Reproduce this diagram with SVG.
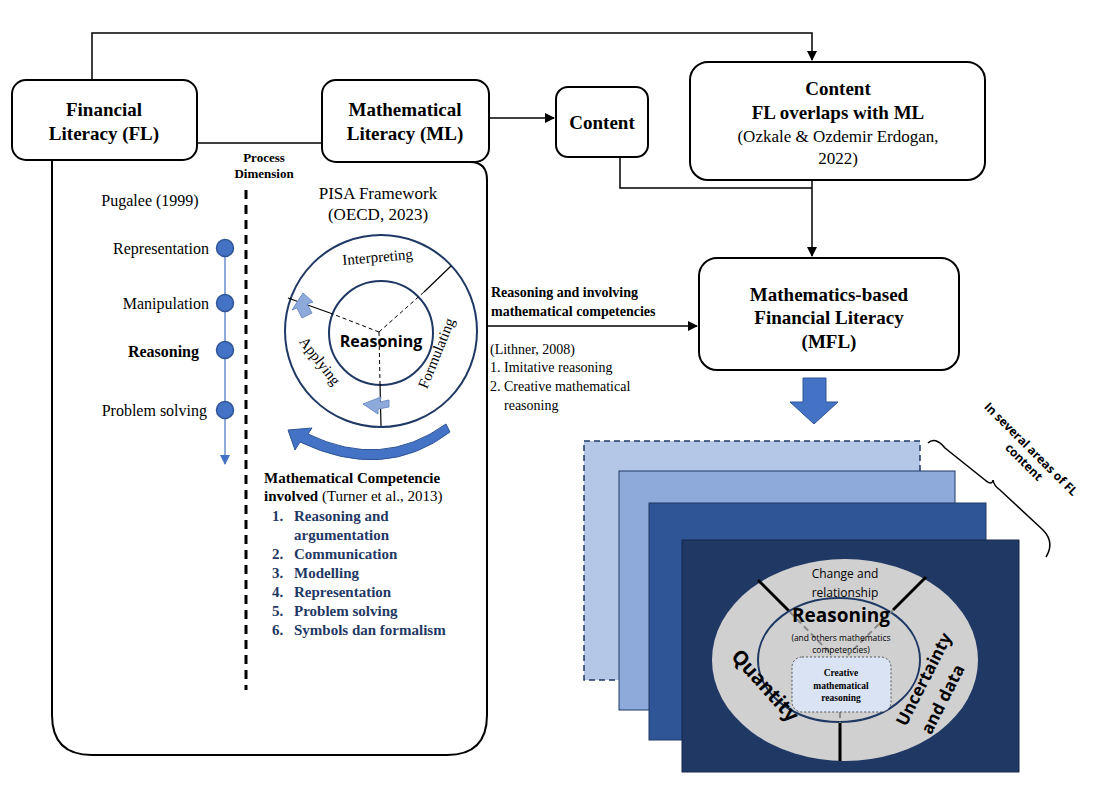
<svg xmlns="http://www.w3.org/2000/svg" width="1103" height="806" viewBox="0 0 1103 806">
<style>
.box{fill:#fff;stroke:#000;stroke-width:2}
.ln{fill:none;stroke:#000;stroke-width:1.5}
.t{font-family:'Liberation Serif','DejaVu Serif',serif;fill:#000}
.b{font-weight:bold}
.s{font-family:'Open Sans','Liberation Sans',sans-serif}
.comp{font-family:'Liberation Serif','DejaVu Serif',serif;font-weight:bold;fill:#1f3864;font-size:15px}
</style>
<defs>
<marker id="ah" markerWidth="10" markerHeight="10" refX="9" refY="5" orient="auto" markerUnits="userSpaceOnUse"><path d="M0,0 L10,5 L0,10 z" fill="#000"/></marker>
<marker id="bh" markerWidth="10" markerHeight="10" refX="9" refY="5" orient="auto" markerUnits="userSpaceOnUse"><path d="M0,0 L10,5 L0,10 z" fill="#4472c4"/></marker>
</defs>
<rect width="1103" height="806" fill="#fff"/>
<g id="connectors">
<path class="ln" d="M92,80 V33 H812 V60" marker-end="url(#ah)"/>
<path class="ln" d="M197,143 H322"/>
<path class="ln" d="M489,118 H554" marker-end="url(#ah)"/>
<path class="ln" d="M620,157 V188 H812"/>
<path class="ln" d="M812,180 V256" marker-end="url(#ah)"/>
<path class="ln" d="M487,326 H697" marker-end="url(#ah)"/>
<path d="M803,378 H826 V402 H838 L814,424 L790,402 H803 Z" fill="#4472c4" stroke="#2f5597"/>
</g>
<g id="bigbox" font-family="Liberation Serif, DejaVu Serif, serif">
<path d="M52,162 V715 Q52,755 92,755 H447 Q487,755 487,715 V180 Q487,162 470,162" class="box"/>
<path d="M52,162 Q52,152 62,150" class="box"/>
<line x1="246" y1="190" x2="246" y2="690" stroke="#000" stroke-width="3" stroke-dasharray="9,6"/>
<text class="t b" x="264" y="162" font-size="13" text-anchor="middle">Process</text>
<text class="t b" x="264" y="178" font-size="13" text-anchor="middle">Dimension</text>
<text class="t" x="150" y="206" font-size="16" text-anchor="middle">Pugalee (1999)</text>
<line x1="225" y1="248" x2="225" y2="464" stroke="#4472c4" stroke-width="1.2" marker-end="url(#bh)"/>
<g fill="#4472c4" stroke="#2f5597" stroke-width="1.5">
<circle cx="225" cy="248" r="8.5"/><circle cx="225" cy="303" r="8.5"/><circle cx="225" cy="350" r="8.5"/><circle cx="225" cy="410" r="8.5"/>
</g>
<g class="t" font-size="16" text-anchor="end">
<text x="209" y="254">Representation</text>
<text x="209" y="309">Manipulation</text>
<text x="199" y="357" class="b">Reasoning</text>
<text x="207" y="416">Problem solving</text>
</g>
<text class="t" x="378" y="199" font-size="17" text-anchor="middle">PISA Framework</text>
<text class="t" x="378" y="220" font-size="17" text-anchor="middle">(OECD, 2023)</text>
<circle cx="381" cy="331" r="96" fill="none" stroke="#1f3864" stroke-width="2"/>
<circle cx="381" cy="333" r="52" fill="none" stroke="#1f3864" stroke-width="2"/>
<path d="M379,332 L424,292 M379,332 L330,313 M379,332 L380,383" stroke="#000" stroke-dasharray="4,3" fill="none"/>
<path d="M424,292 L451,266 M330,313 L288,298 M380,383 L381,426" stroke="#000" stroke-width="1.2"/>
<text x="381" y="347" text-anchor="middle" font-family="Open Sans,Liberation Sans,sans-serif" font-weight="bold" font-size="16">Reasoning</text>
<text class="t" font-size="15" transform="translate(378,262) rotate(-5)" text-anchor="middle">Interpreting</text>
<text class="t" font-size="15" transform="translate(441,355) rotate(-68)" text-anchor="middle">Formulating</text>
<text class="t" font-size="15" transform="translate(316,364) rotate(52)" text-anchor="middle">Applying</text>
<path d="M302,318 L297,308 L292,310 L303,293 L313,302 L307,304 L312,313 Z" fill="#8eaadb" stroke="#6f8fc8"/>
<path d="M389,400 L380,402 L381,397 L363,404 L378,414 L378,409 L389,407 Z" fill="#8eaadb" stroke="#6f8fc8"/>
<path d="M446,424 Q382,470 308,434 L312,428 L288,430 L295,450 L300,442 Q384,482 450,432 Z" fill="#4472c4" stroke="#2f5597"/>
<text class="t b" x="264" y="483" font-size="15">Mathematical Competencie</text>
<text class="t" x="264" y="501" font-size="15"><tspan font-weight="bold">involved</tspan> (Turner et al., 2013)</text>
<g class="comp">
<text x="272" y="521"><tspan>1.</tspan><tspan x="294">Reasoning and</tspan></text>
<text x="294" y="540">argumentation</text>
<text x="272" y="559"><tspan>2.</tspan><tspan x="294">Communication</tspan></text>
<text x="272" y="578"><tspan>3.</tspan><tspan x="294">Modelling</tspan></text>
<text x="272" y="597"><tspan>4.</tspan><tspan x="294">Representation</tspan></text>
<text x="272" y="616"><tspan>5.</tspan><tspan x="294">Problem solving</tspan></text>
<text x="272" y="635"><tspan>6.</tspan><tspan x="294">Symbols dan formalism</tspan></text>
</g>
</g>
<g id="fl"><rect class="box" x="12" y="80" width="185" height="80" rx="14"/>
<text class="t b" x="104" y="116" font-size="19" text-anchor="middle">Financial</text>
<text class="t b" x="104" y="140" font-size="19" text-anchor="middle">Literacy (FL)</text></g>
<g id="ml"><rect class="box" x="322" y="80" width="167" height="82" rx="14"/>
<text class="t b" x="405" y="116" font-size="19" text-anchor="middle">Mathematical</text>
<text class="t b" x="405" y="140" font-size="19" text-anchor="middle">Literacy (ML)</text></g>
<g id="content"><rect class="box" x="556" y="87" width="92" height="70" rx="12"/>
<text class="t b" x="602" y="129" font-size="19" text-anchor="middle">Content</text></g>
<g id="overlap"><rect class="box" x="690" y="62" width="295" height="118" rx="18"/>
<text class="t b" x="838" y="95" font-size="19" text-anchor="middle">Content</text>
<text class="t b" x="838" y="119" font-size="19" text-anchor="middle">FL overlaps with ML</text>
<text class="t" x="838" y="142" font-size="17" text-anchor="middle">(Ozkale &amp; Ozdemir Erdogan,</text>
<text class="t" x="838" y="164" font-size="17" text-anchor="middle">2022)</text></g>
<g id="mfl"><rect class="box" x="699" y="258" width="260" height="112" rx="18"/>
<text class="t b" x="829" y="301" font-size="19" text-anchor="middle">Mathematics-based</text>
<text class="t b" x="829" y="324" font-size="19" text-anchor="middle">Financial Literacy</text>
<text class="t b" x="829" y="348" font-size="19" text-anchor="middle">(MFL)</text></g>
<g id="reasonlabel">
<text class="t b" x="491" y="297" font-size="14">Reasoning and involving</text>
<text class="t b" x="491" y="316" font-size="14">mathematical competencies</text>
<text class="t" x="490" y="354" font-size="14">(Lithner, 2008)</text>
<text class="t" x="490" y="372" font-size="14">1. Imitative reasoning</text>
<text class="t" x="490" y="391" font-size="14">2. Creative mathematical</text>
<text class="t" x="504" y="410" font-size="14">reasoning</text>
</g>
<g id="stack">
<rect x="584" y="441" width="336" height="239" fill="#b4c7e7" stroke="#1f3864" stroke-dasharray="6,4" stroke-width="1.5"/>
<rect x="619" y="471" width="336" height="239" fill="#8eaadb" stroke="#1f3864" stroke-width="1"/>
<rect x="649" y="503" width="337" height="237" fill="#2f5597" stroke="#1f3864" stroke-width="1"/>
<rect x="682" y="540" width="337" height="232" fill="#1f3864" stroke="#17284a" stroke-width="1"/>
<ellipse cx="845" cy="660" rx="133" ry="101" fill="#d0d0d0"/>
<path d="M758,580 L790,612 M926,577 L893,610 M840,723 L840,761" stroke="#000" stroke-width="3"/>
<ellipse cx="839" cy="660" rx="81" ry="62" fill="#d0d0d0" stroke="#1f3864" stroke-width="2"/>
<path d="M790,612 L832,655 M893,610 L848,655 M840,712 L840,723" stroke="#888" stroke-width="2" stroke-dasharray="6,4"/>
<rect x="792" y="657" width="99" height="55" rx="10" fill="#dae3f3" stroke="#555" stroke-dasharray="2,2"/>
<g class="s" text-anchor="middle">
<text x="845" y="578" font-size="12">Change and</text>
<text x="845" y="597" font-size="12">relationship</text>
<text x="841" y="622" font-size="19" font-weight="bold">Reasoning</text>
<text x="841" y="641" font-size="8.5">(and others mathematics</text>
<text x="841" y="653" font-size="8.5">competencies)</text>
<text font-size="20" font-weight="bold" transform="translate(760,690) rotate(48)">Quantity</text>
<text font-size="17" font-weight="bold" transform="translate(929,682) rotate(-63)">Uncertainty</text>
<text font-size="17" font-weight="bold" transform="translate(948,702) rotate(-63)">and data</text>
</g>
<g class="t" font-size="9.5" font-weight="bold" text-anchor="middle">
<text x="841" y="676">Creative</text>
<text x="841" y="689">mathematical</text>
<text x="841" y="701">reasoning</text>
</g>
</g>
<g id="bracket">
<path d="M928,443 Q935,436 945,448 L985,480 Q992,486 993,480 Q994,486 1000,490 L1043,530 Q1055,542 1046,557" fill="none" stroke="#000" stroke-width="1.5"/>
<text class="s" font-size="12" font-weight="bold" text-anchor="middle" transform="translate(1028,452) rotate(45)">In several areas of FL</text>
<text class="s" font-size="12" font-weight="bold" text-anchor="middle" transform="translate(1021,465) rotate(45)">content</text>
</g>
</svg>
